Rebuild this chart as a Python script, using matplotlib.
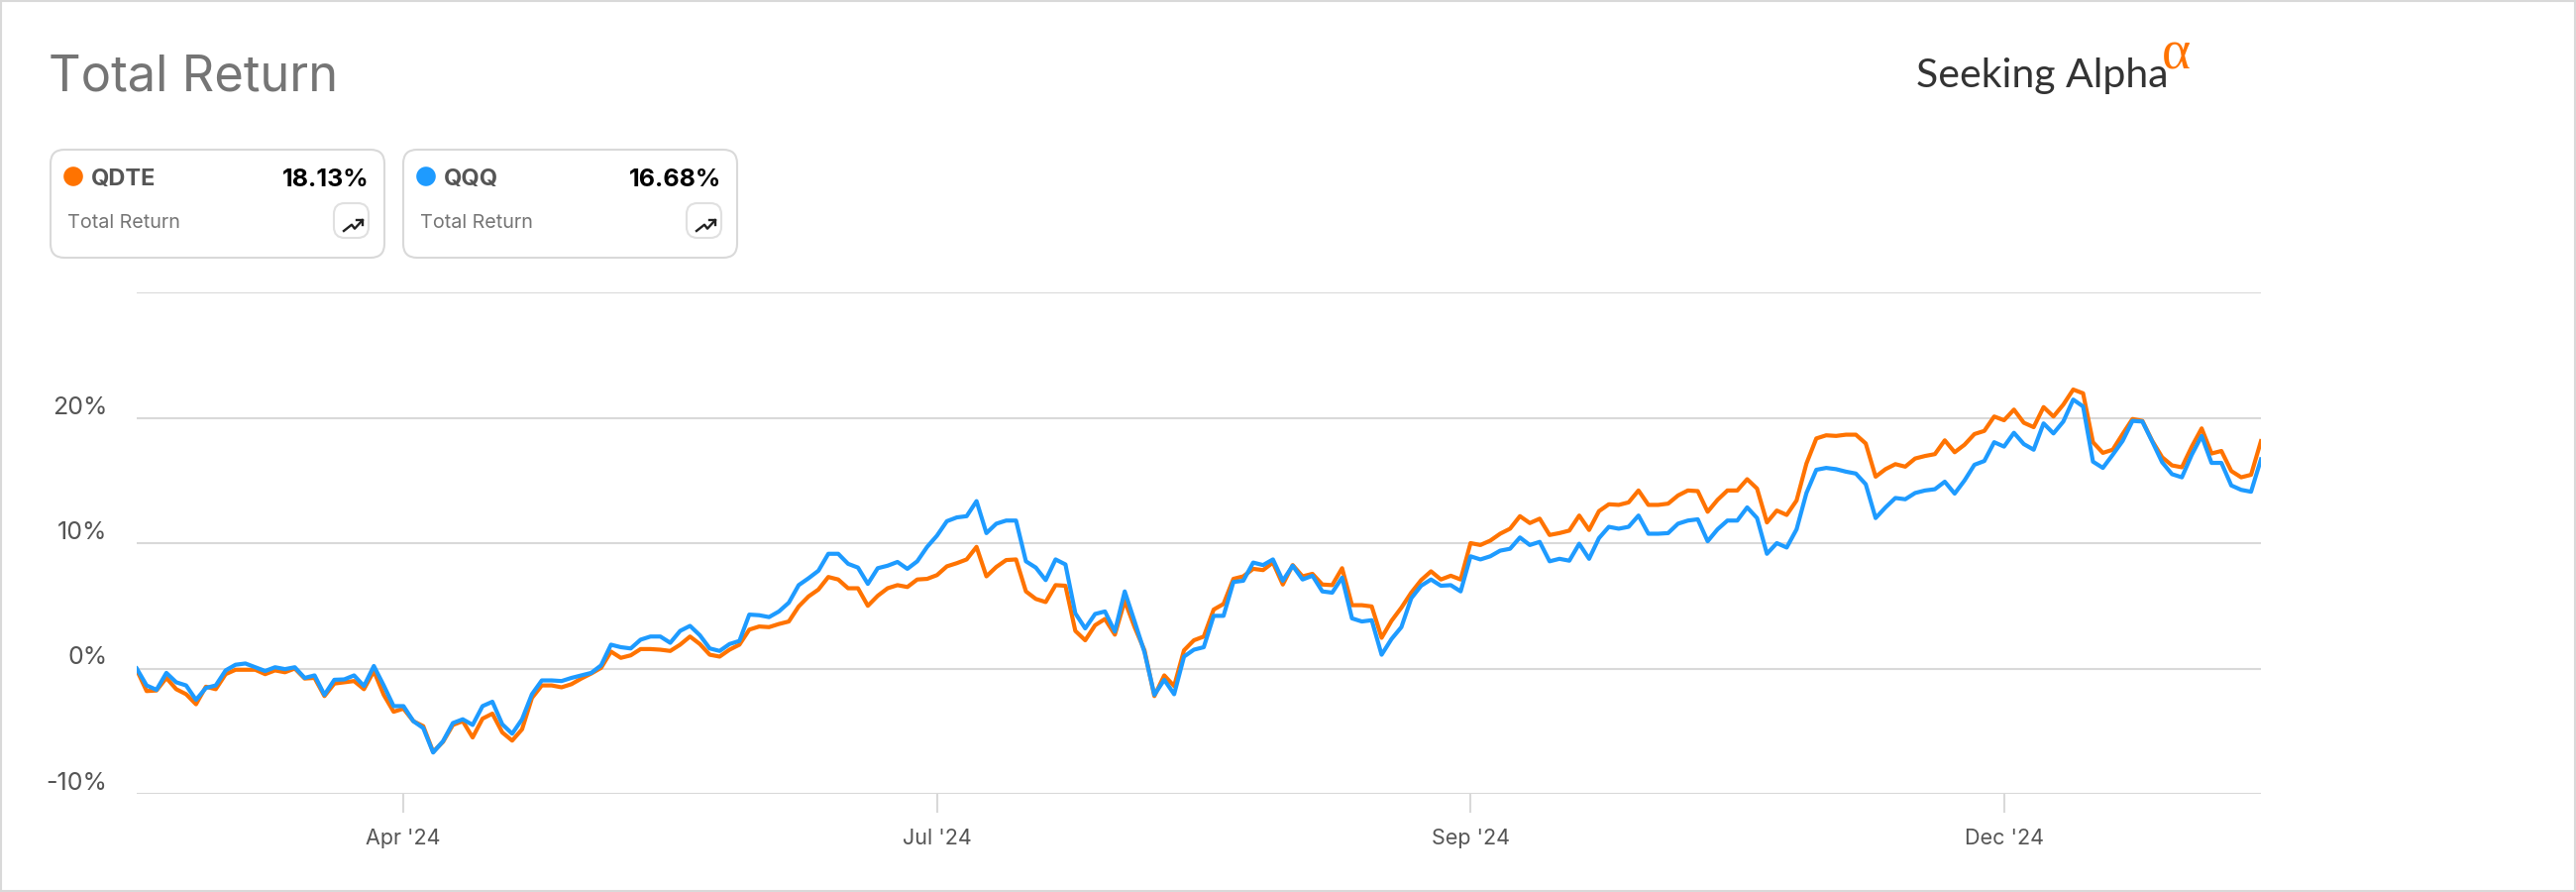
import matplotlib
matplotlib.use('Agg')
import matplotlib.pyplot as plt
from matplotlib.patches import FancyBboxPatch, Circle, Rectangle
from matplotlib.transforms import ScaledTranslation

plt.rcParams['font.family'] = ['Inter', 'DejaVu Sans']

# valores (% retorno total, un punto por sesion)
qdte = [
    -0.1, -1.8, -1.75, -0.75, -1.65, -2.05, -2.85, -1.45, -1.65, -0.45,
    -0.1, -0.1, -0.1, -0.45, -0.15, -0.3, 0.0, -0.8, -0.75, -2.2,
    -1.2, -1.1, -1.0, -1.65, -0.2, -2.1, -3.45, -3.2, -4.2, -4.6,
    -6.65, -5.85, -4.5, -4.2, -5.5, -4.0, -3.6, -5.1, -5.75, -4.85,
    -2.35, -1.35, -1.35, -1.5, -1.25, -0.8, -0.4, 0.05, 1.35, 0.85,
    1.05, 1.55, 1.55, 1.5, 1.4, 1.9, 2.55, 1.95, 1.1, 0.95,
    1.5, 1.9, 3.1, 3.35, 3.3, 3.55, 3.75, 4.95, 5.75, 6.3,
    7.3, 7.1, 6.4, 6.4, 5.0, 5.8, 6.4, 6.65, 6.5, 7.1,
    7.15, 7.45, 8.15, 8.4, 8.7, 9.7, 7.35, 8.1, 8.65, 8.7,
    6.15, 5.55, 5.3, 6.65, 6.6, 3.0, 2.25, 3.45, 3.95, 2.7,
    5.4, 3.3, 1.45, -2.2, -0.55, -1.4, 1.45, 2.25, 2.55, 4.7,
    5.15, 7.15, 7.35, 7.95, 7.85, 8.45, 6.7, 8.25, 7.35, 7.55,
    6.7, 6.65, 8.0, 5.05, 5.05, 4.95, 2.45, 3.8, 4.85, 6.05,
    7.05, 7.75, 7.1, 7.4, 7.1, 10.0, 9.85, 10.2, 10.75, 11.15,
    12.15, 11.6, 11.95, 10.65, 10.8, 11.0, 12.2, 11.05, 12.55, 13.1,
    13.05, 13.25, 14.2, 13.05, 13.05, 13.15, 13.8, 14.2, 14.15, 12.5,
    13.45, 14.2, 14.2, 15.1, 14.35, 11.65, 12.6, 12.25, 13.4, 16.35,
    18.35, 18.6, 18.55, 18.65, 18.65, 17.95, 15.3, 15.9, 16.3, 16.1,
    16.75, 16.95, 17.1, 18.2, 17.25, 17.85, 18.7, 18.95, 20.1, 19.8,
    20.65, 19.6, 19.25, 20.85, 20.1, 21.05, 22.25, 21.95, 18.05, 17.2,
    17.45, 18.7, 19.9, 19.75, 18.15, 16.85, 16.2, 16.05, 17.7, 19.15,
    17.15, 17.35, 15.75, 15.25, 15.45, 18.13,
]
qqq = [
    0.0, -1.35, -1.7, -0.35, -1.1, -1.35, -2.5, -1.55, -1.35, -0.15,
    0.3, 0.4, 0.1, -0.2, 0.1, -0.05, 0.1, -0.75, -0.55, -2.1,
    -0.9, -0.87, -0.55, -1.4, 0.2, -1.35, -3.0, -3.0, -4.2, -4.75,
    -6.7, -5.8, -4.35, -4.05, -4.5, -3.0, -2.65, -4.45, -5.2, -4.05,
    -2.05, -0.95, -0.95, -1.0, -0.75, -0.55, -0.35, 0.25, 1.9, 1.7,
    1.6, 2.3, 2.55, 2.55, 2.05, 3.0, 3.4, 2.65, 1.6, 1.4,
    1.95, 2.2, 4.3, 4.25, 4.1, 4.55, 5.25, 6.65, 7.2, 7.8,
    9.15, 9.15, 8.35, 8.05, 6.75, 8.0, 8.2, 8.5, 7.95, 8.55,
    9.7, 10.6, 11.75, 12.05, 12.15, 13.35, 10.8, 11.55, 11.8, 11.8,
    8.55, 8.05, 7.05, 8.7, 8.3, 4.4, 3.2, 4.35, 4.55, 2.95,
    6.15, 3.75, 1.3, -2.1, -0.9, -2.05, 0.95, 1.5, 1.7, 4.2,
    4.2, 6.9, 7.0, 8.45, 8.25, 8.7, 7.0, 8.2, 7.1, 7.4,
    6.15, 6.05, 7.25, 4.0, 3.75, 3.85, 1.1, 2.35, 3.3, 5.6,
    6.6, 7.1, 6.6, 6.65, 6.15, 8.95, 8.7, 8.95, 9.4, 9.55,
    10.45, 9.85, 10.1, 8.55, 8.75, 8.6, 9.95, 8.75, 10.4, 11.3,
    11.15, 11.3, 12.2, 10.75, 10.75, 10.8, 11.55, 11.8, 11.9, 10.15,
    11.1, 11.8, 11.8, 12.85, 12.0, 9.15, 10.0, 9.65, 11.1, 14.0,
    15.85, 16.0, 15.9, 15.7, 15.55, 14.7, 12.0, 12.85, 13.6, 13.5,
    14.0, 14.2, 14.3, 14.9, 13.95, 15.0, 16.25, 16.55, 18.05, 17.7,
    18.8, 17.9, 17.45, 19.55, 18.75, 19.7, 21.45, 20.9, 16.5, 16.0,
    17.05, 18.15, 19.75, 19.7, 18.1, 16.45, 15.5, 15.25, 17.05, 18.55,
    16.4, 16.4, 14.6, 14.25, 14.1, 16.68,
]

x_ticks = [27, 81, 135, 189]
x_labels = ["Apr '24", "Jul '24", "Sep '24", "Dec '24"]
y_ticks = [-10, 0, 10, 20, 30]
y_labels = ['-10%', '0%', '10%', '20%', '']

tickers = ['QDTE', 'QQQ']
totals = ['18.13%', '16.68%']

orange = '#ff7300'
blue = '#1e9bff'
gris = '#d9d9d9'

W, H = 2600, 900
fig = plt.figure(figsize=(26, 9), dpi=100, facecolor='white')

# capa en pixeles para titulo, tarjetas y logo
bg = fig.add_axes([0, 0, 1, 1])
bg.set_xlim(0, W)
bg.set_ylim(H, 0)
bg.axis('off')

bg.add_patch(Rectangle((1, 1), W - 2, H - 2, fill=False, ec=gris, lw=1.5))
bg.text(49, 92, 'Total Return', fontsize=36.5, color='#757575', va='baseline', ha='left')

# tarjetas
for i, x0 in enumerate([51, 407]):
    color = orange if i == 0 else blue
    bg.add_patch(FancyBboxPatch((x0, 151), 337, 109, boxstyle='round,pad=0,rounding_size=14',
                                fc='white', ec=gris, lw=1.5))
    bg.add_patch(Circle((x0 + 23, 178), 9.8, fc=color, ec='none'))
    bg.text(x0 + 41, 179, tickers[i], fontsize=17, fontweight='bold', color='#555555', va='center_baseline')
    bg.text(x0 + 321, 179, totals[i], fontsize=18, fontweight='bold', color='black', va='center_baseline', ha='right')
    bg.text(x0 + 17, 223, 'Total Return', fontsize=14.2, color='#757575', va='center_baseline')
    bg.add_patch(FancyBboxPatch((x0 + 286, 205), 35, 35, boxstyle='round,pad=0,rounding_size=11',
                                fc='white', ec='#e0e0e0', lw=1.5))
    # icono de tendencia
    bg.plot([x0 + 296, x0 + 304, x0 + 307, x0 + 315], [233, 226.7, 230.7, 222], color='#222222', lw=1.7)
    bg.plot([x0 + 309, x0 + 315, x0 + 315], [221.5, 221.5, 227], color='#222222', lw=1.7)

# logo
bg.text(1934, 88, 'Seeking Alpha', fontsize=29.5, color='#333333', family='Lato', va='baseline')
bg.text(2182, 69, '\u03b1', fontsize=40, color=orange, family='Liberation Serif', va='baseline')

# grafico
ax = fig.add_axes([138 / W, 1 - 801 / H, (2282 - 138) / W, (801 - 295) / H])
ax.patch.set_alpha(0)
ax.plot(range(len(qdte)), qdte, color=orange, lw=3.0, solid_joinstyle='round')
ax.plot(range(len(qqq)), qqq, color=blue, lw=3.0, solid_joinstyle='round')
ax.set_xlim(0, len(qdte) - 1)
ax.set_ylim(-10, 30)
ax.set_xticks(x_ticks)
ax.set_xticklabels(x_labels)
ax.set_yticks(y_ticks)
ax.set_yticklabels(y_labels)
ax.grid(axis='y', color=gris, lw=1.5)
ax.set_axisbelow(True)
for s in ax.spines.values():
    s.set_visible(False)
ax.tick_params(axis='x', length=14, width=1.5, color=gris, labelsize=15.5, labelcolor='#555555', pad=11)
ax.tick_params(axis='y', length=0, labelsize=18, labelcolor='#555555', pad=21.5)
for lab in ax.get_yticklabels():
    lab.set_transform(lab.get_transform() + ScaledTranslation(0, 13 / 100, fig.dpi_scale_trans))

fig.savefig('out.png', dpi=100)
